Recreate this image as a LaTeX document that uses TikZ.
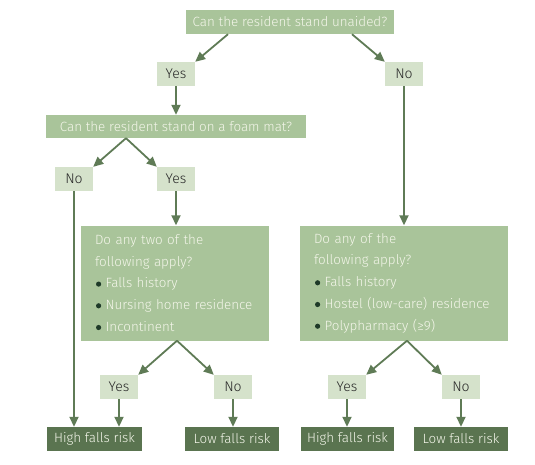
\documentclass[tikz,border=0pt]{standalone}
\usepackage{fontspec}
\setmainfont{Fira Sans Light}
\usetikzlibrary{arrows.meta}
\definecolor{medg}{HTML}{A9C49A}
\definecolor{lightg}{HTML}{D5E2CB}
\definecolor{darkg}{HTML}{5A7450}
\definecolor{arrowc}{HTML}{5F7B56}
\definecolor{lighttext}{HTML}{F4F6EA}
\definecolor{bulc}{HTML}{1E3A28}
\newcommand{\bul}{\hspace{1pt}\tikz[baseline=0pt]\fill[bulc] (0,3.8pt) circle (2.6pt);\hspace{4.5pt}}
\tikzset{
  qbox/.style={fill=medg, text=lighttext, inner sep=0pt, minimum height=24pt, font=\fontsize{13.4}{15}\selectfont},
  ansbox/.style={fill=lightg, text=black!85, inner sep=0pt, minimum width=38pt, minimum height=24pt, font=\fontsize{14}{15}\selectfont},
  riskbox/.style={fill=darkg, text=lighttext, inner sep=0pt, minimum height=24pt, font=\fontsize{13.4}{15}\selectfont},
  listbox/.style={fill=medg, text=lighttext, inner xsep=14pt, inner ysep=0pt, minimum height=115pt, align=left, font=\fontsize{13.4}{21.7}\selectfont},
  arr/.style={draw=arrowc, line width=1.8pt, -{Triangle[length=10pt,width=9pt]}}
}
\begin{document}
\begin{tikzpicture}[x=1pt,y=-1pt]
\useasboundingbox (0,0) rectangle (535,465);
% question boxes
\node[qbox, minimum width=208pt] (top) at (290,22) {Can the resident stand unaided?};
\node[ansbox] (yes1) at (176,74) {Yes};
\node[ansbox] (no1) at (404,74) {No};
\node[qbox, minimum width=260pt, minimum height=23pt] (foam) at (176,126.5) {Can the resident stand on a foam mat?};
\node[ansbox] (no2) at (74,179) {No};
\node[ansbox] (yes2) at (176,179) {Yes};
\node[listbox, text width=160pt] (boxL) at (175,283) {Do any two of the\\following apply?\\\bul Falls history\\\bul Nursing home residence\\\bul Incontinent};
\node[listbox, text width=180pt] (boxR) at (404,283) {Do any of the\\following apply?\\\bul Falls history\\\bul Hostel (low-care) residence\\\bul Polypharmacy (≥9)};
\node[ansbox] (yes3) at (119,387) {Yes};
\node[ansbox] (no3) at (233,387) {No};
\node[ansbox] (yes4) at (347,387) {Yes};
\node[ansbox] (no4) at (461,387) {No};
\node[riskbox, minimum width=95pt] (high1) at (94.5,439) {High falls risk};
\node[riskbox, minimum width=94pt] (low1) at (232,439) {Low falls risk};
\node[riskbox, minimum width=93pt] (high2) at (347.5,439) {High falls risk};
\node[riskbox, minimum width=94pt] (low2) at (461,439) {Low falls risk};
% connectors
\coordinate (topL) at ([xshift=-62pt]top.south);
\coordinate (topR) at ([xshift=62pt]top.south);
\draw[arr] (topL) -- (yes1.north east);
\draw[arr] (topR) -- (no1.north west);
\draw[arr] (yes1.south) -- (yes1.south |- foam.north);
\draw[arr] (no1.south) -- (no1.south |- boxR.north);
\coordinate (foamS) at ([xshift=-50pt]foam.south);
\draw[arr] (foamS) -- (no2.north east);
\draw[arr] (foamS) -- (yes2.north west);
\draw[arr] (no2.south) -- (no2.south |- high1.north);
\draw[arr] (yes2.south) -- (yes2.south |- boxL.north);
\coordinate (boxLS) at ([xshift=2pt]boxL.south);
\draw[arr] (boxLS) -- (yes3.north east);
\draw[arr] (boxLS) -- (no3.north west);
\coordinate (boxRS) at ([xshift=3pt]boxR.south);
\draw[arr] (boxRS) -- (yes4.north east);
\draw[arr] (boxRS) -- (no4.north west);
\draw[arr] (yes3.south) -- (yes3.south |- high1.north);
\draw[arr] (no3.south) -- (no3.south |- low1.north);
\draw[arr] (yes4.south) -- (yes4.south |- high2.north);
\draw[arr] (no4.south) -- (no4.south |- low2.north);
\end{tikzpicture}
\end{document}
